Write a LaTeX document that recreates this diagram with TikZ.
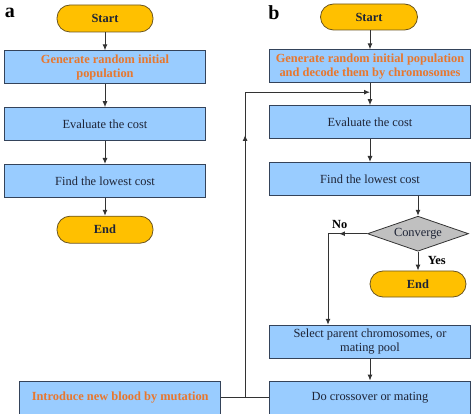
\documentclass[tikz,border=0pt]{standalone}
\usepackage{fontspec}
\setmainfont{Liberation Serif}
\usepackage{tikz}
\usetikzlibrary{positioning}
\usetikzlibrary{arrows.meta}
\usetikzlibrary{shapes.geometric}
\usetikzlibrary{calc}
\usetikzlibrary{decorations.markings}

\definecolor{boxblue}{HTML}{99CCFF}
\definecolor{boxline}{HTML}{34435A}
\definecolor{gold}{HTML}{FFC000}
\definecolor{goldline}{HTML}{6B5520}
\definecolor{orangetxt}{HTML}{E8772E}
\definecolor{diamgray}{HTML}{C0C0C0}
\definecolor{wire}{HTML}{333333}
\definecolor{txt}{HTML}{1E2436}

\tikzset{
  startstop/.style={draw=goldline, fill=gold, line width=0.8pt, rounded corners=13pt,
    minimum width=96pt, minimum height=27pt, inner sep=1pt, text centered,
    font=\fontsize{12.4}{14}\selectfont\bfseries, text=txt},
  process/.style={draw=boxline, fill=boxblue, line width=0.8pt, minimum width=201pt,
    minimum height=33pt, inner sep=1pt, align=center,
    font=\fontsize{12.4}{14}\selectfont, text=txt},
  orangebox/.style={process, font=\fontsize{12.4}{14}\selectfont\bfseries, text=orangetxt},
  decision/.style={diamond, draw=wire, fill=diamgray, line width=0.8pt, aspect=2.9,
    minimum width=101pt, minimum height=35pt, inner sep=0pt,
    font=\fontsize{12.4}{14}\selectfont, text=txt},
  line/.style={draw=wire, line width=1pt},
  arrow/.style={line, -{Latex[length=6pt,width=5pt]}},
  midarrow/.style={postaction={decorate}, decoration={markings,
    mark=at position #1 with {\arrow{Latex[length=6pt,width=5pt]}}}},
  panel/.style={font=\fontsize{20}{22}\selectfont\bfseries, text=black},
  answer/.style={font=\fontsize{12.4}{14}\selectfont\bfseries, text=black}
}

\begin{document}
\begin{tikzpicture}[x=1pt, y=-1pt]
    \useasboundingbox (0,0) rectangle (474,414);
    % nodes (a) %
    \node[panel] (la) at (10,13) {a};
    \node[startstop] (starta) at (105,18.5) {Start};
    \node[orangebox, below=18pt of starta] (gena) {Generate random initial\\population};
    \node[process, below=23pt of gena] (evala) {Evaluate the cost};
    \node[process, below=23pt of evala] (finda) {Find the lowest cost};
    \node[startstop, below=18pt of finda] (enda) {End};
    % nodes (b) %
    \node[panel] (lb) at (274,13) {b};
    \node[startstop, minimum height=26pt, minimum width=97pt] (startb) at (369,17) {Start};
    \node[orangebox, below=19pt of startb, xshift=1pt] (genb) {Generate random initial population\\and decode them by chromosomes};
    \node[process, below=22pt of genb] (evalb) {Evaluate the cost};
    \node[process, below=23pt of evalb] (findb) {Find the lowest cost};
    \node[decision, below=20pt of findb, xshift=48pt] (conv) {Converge};
    \node[startstop, minimum height=26pt, below=19pt of conv] (endb) {End};
    \node[process, below=129pt of findb] (selb) {Select parent chromosomes, or\\mating pool};
    \node[process, below=22pt of selb] (dob) {Do crossover or mating};
    \node[orangebox, left=48pt of dob] (intro) {Introduce new blood by mutation};
    \coordinate[below=9pt of genb] (merge);
    \coordinate (up) at ($(intro.east)!0.5!(dob.west)$);
    \coordinate (nocorner) at ([xshift=-42pt]selb.north);
    % edges (a) %
    \draw[arrow] (starta) -- (gena);
    \draw[arrow] (gena) -- (evala);
    \draw[arrow] (evala) -- (finda);
    \draw[arrow] (finda) -- (enda);
    % edges (b) %
    \draw[arrow] (startb.south -| genb) -- (genb);
    \draw[arrow] (genb) -- (evalb);
    \draw[arrow] (evalb) -- (findb);
    \draw[arrow] (findb.south -| conv.north) -- (conv.north);
    \draw[arrow] (conv) -- node[answer, right=6pt, pos=0.45] (yes) {Yes} (endb);
    \draw[line, midarrow=0.72] (conv.west) -- node[answer, above=1pt, pos=0.7] (no) {No} (conv.west -| nocorner);
    \draw[arrow] (conv.west -| nocorner) -- (nocorner);
    \draw[arrow] (selb) -- (dob);
    \draw[line] (intro.east) -- (dob.west);
    \draw[line, midarrow=0.86] (up) -- (up |- merge);
    \draw[arrow] (up |- merge) -- (merge);
  \end{tikzpicture}
\end{document}
